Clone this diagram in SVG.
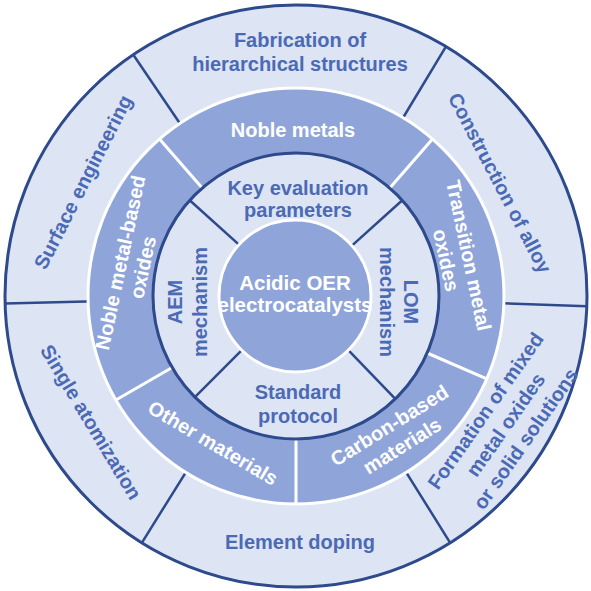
<svg xmlns="http://www.w3.org/2000/svg" width="591" height="591" viewBox="0 0 591 591">
<style>
.t{font-family:"Liberation Sans",Arial,sans-serif;font-weight:bold;font-size:20px;text-anchor:middle}
.b{fill:#4b6ab4}
.w{fill:#ffffff}
.dk{stroke:#2d4a8c;stroke-width:2.5;fill:none}
.wh{stroke:#ffffff;stroke-width:3;fill:none}
</style>
<rect width="591" height="591" fill="#ffffff"/>
<g id="rings">
<circle cx="296" cy="296" r="291" fill="#dde4f4" stroke="#2d4a8c" stroke-width="3"/>
<g id="outer-dividers" class="dk">
<line x1="183.7" y1="129" x2="133.3" y2="54.8"/>
<line x1="399" y1="124.5" x2="445.9" y2="46.6"/>
<line x1="496" y1="303" x2="586.8" y2="306.2"/>
<line x1="402" y1="465.6" x2="450.2" y2="542.8"/>
<line x1="190" y1="465.6" x2="141.8" y2="542.8"/>
<line x1="96" y1="301.2" x2="5.1" y2="303.6"/>
</g>
<circle cx="296" cy="296" r="208" fill="#8fa5d9" stroke="#ffffff" stroke-width="3"/>
<g id="middle-dividers" class="wh">
<line x1="202.2" y1="188.1" x2="159.5" y2="139"/>
<line x1="389.8" y1="188.1" x2="432.5" y2="139"/>
<line x1="427.1" y1="353" x2="486.8" y2="378.9"/>
<line x1="296" y1="439" x2="296" y2="504"/>
<line x1="172.2" y1="367.5" x2="115.9" y2="400"/>
</g>
<circle cx="296" cy="296" r="143" fill="#dde4f4" stroke="#2d4a8c" stroke-width="3"/>
<g id="inner-dividers" class="dk">
<line x1="239.5" y1="245.1" x2="189.7" y2="200.3"/>
<line x1="352.5" y1="245.1" x2="402.3" y2="200.3"/>
<line x1="348.8" y1="350.7" x2="395.3" y2="398.9"/>
<line x1="242.3" y1="349.7" x2="194.9" y2="397.1"/>
</g>
</g>
<g id="core">
<circle cx="295" cy="296" r="76" fill="#8fa5d9" stroke="#ffffff" stroke-width="3"/>
<text class="t w" x="295" y="290" style="font-size:20.5px">Acidic OER</text>
<text class="t w" x="295" y="312" style="font-size:20.5px">electrocatalysts</text>
</g>
<g id="key-evaluation">
<text class="t b" x="298" y="195">Key evaluation</text>
<text class="t b" x="298" y="217">parameters</text>
</g>
<g id="standard-protocol">
<text class="t b" x="298" y="399">Standard</text>
<text class="t b" x="298" y="423">protocol</text>
</g>
<g id="aem" transform="translate(182,302) rotate(-90)">
<text class="t b" x="0" y="0">AEM</text>
<text class="t b" x="0" y="25">mechanism</text>
</g>
<g id="lom" transform="translate(404,302) rotate(90)">
<text class="t b" x="0" y="0">LOM</text>
<text class="t b" x="0" y="24">mechanism</text>
</g>
<g id="noble-metals">
<text class="t w" x="293" y="137">Noble metals</text>
</g>
<g id="transition-metal-oxides" transform="translate(457,258) rotate(78)">
<text class="t w" x="0" y="-5">Transition metal</text>
<text class="t w" x="0" y="18">oxides</text>
</g>
<g id="carbon-based" transform="translate(396,436) rotate(-32)">
<text class="t w" x="0" y="-5.5">Carbon-based</text>
<text class="t w" x="0" y="18.5">materials</text>
</g>
<g id="other-materials" transform="translate(213,443) rotate(30.5)">
<text class="t w" x="0" y="7">Other materials</text>
</g>
<g id="noble-metal-oxides" transform="translate(132,265) rotate(-78)">
<text class="t w" x="0" y="-5">Noble metal-based</text>
<text class="t w" x="0" y="18">oxides</text>
</g>
<g id="fabrication">
<text class="t b" x="300" y="47">Fabrication of</text>
<text class="t b" x="300" y="71">hierarchical structures</text>
</g>
<g id="construction-alloy" transform="translate(500,183) rotate(62.5)">
<text class="t b" x="0" y="7">Construction of alloy</text>
</g>
<g id="formation-mixed" transform="translate(506,425) rotate(-55)">
<text class="t b" x="0" y="-18">Formation of mixed</text>
<text class="t b" x="0" y="6.5">metal oxides</text>
<text class="t b" x="0" y="31">or solid solutions</text>
</g>
<g id="element-doping">
<text class="t b" x="300" y="549">Element doping</text>
</g>
<g id="single-atomization" transform="translate(91,422) rotate(59)">
<text class="t b" x="0" y="7">Single atomization</text>
</g>
<g id="surface-engineering" transform="translate(83,182) rotate(-63)">
<text class="t b" x="0" y="7">Surface engineering</text>
</g>
</svg>
